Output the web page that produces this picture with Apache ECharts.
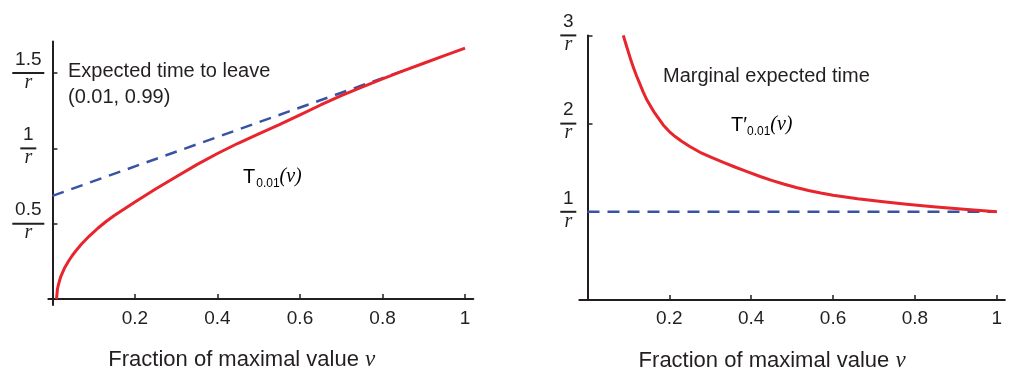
<!DOCTYPE html>
<html>
<head>
<meta charset="utf-8">
<script src="https://cdn.jsdelivr.net/npm/echarts@6/dist/echarts.min.js"></script>
<style>
  html, body { margin: 0; padding: 0; background: #fff; }
  #main { width: 1024px; height: 378px; }
</style>
</head>
<body>
<div id="main"></div>
<script>
// x ticks shared by both panels
var xTicks = [0.2, 0.4, 0.6, 0.8, 1];

// left panel: expected time to leave T_0.01(nu), in units of 1/r
var leftNu = [0.01, 0.012, 0.015, 0.02, 0.03, 0.04, 0.05, 0.06, 0.07, 0.08, 0.09, 0.1, 0.11, 0.13, 0.15, 0.175, 0.2, 0.225, 0.25, 0.3, 0.35, 0.4, 0.45, 0.5, 0.55, 0.6, 0.65, 0.7, 0.75, 0.8, 0.85, 0.9, 0.95, 1];
var leftT = [0, 0.065, 0.1, 0.148, 0.21, 0.256, 0.296, 0.331, 0.364, 0.392, 0.42, 0.445, 0.47, 0.515, 0.555, 0.6, 0.645, 0.688, 0.73, 0.812, 0.892, 0.966, 1.034, 1.096, 1.157, 1.222, 1.288, 1.35, 1.407, 1.462, 1.515, 1.565, 1.615, 1.665];
var leftDashNu = [0, 0.87];
var leftDashT = [0.685, 1.535];
var leftYTicks = [0.5, 1, 1.5];
var leftYLabels = ['0.5', '1', '1.5'];

// right panel: marginal expected time T'_0.01(nu)
var rightNu = [0.0875, 0.094, 0.1, 0.106, 0.112, 0.12, 0.128, 0.136, 0.145, 0.155, 0.165, 0.175, 0.185, 0.2, 0.215, 0.23, 0.25, 0.275, 0.3, 0.332, 0.36, 0.39, 0.422, 0.45, 0.479, 0.51, 0.54, 0.57, 0.6, 0.66, 0.723, 0.78, 0.845, 0.92, 1];
var rightT = [3.0, 2.9, 2.81, 2.72, 2.64, 2.54, 2.45, 2.36, 2.27, 2.19, 2.115, 2.05, 1.985, 1.91, 1.85, 1.8, 1.74, 1.675, 1.623, 1.56, 1.508, 1.455, 1.4, 1.357, 1.315, 1.275, 1.242, 1.213, 1.188, 1.148, 1.113, 1.085, 1.058, 1.03, 1.0];
var rightDashNu = [0, 1];
var rightDashT = [1, 1];
var rightYTicks = [1, 2, 3];
var rightYLabels = ['1', '2', '3'];

var RED = '#e8252c';
var BLUE = '#3953a4';
var INK = '#231f20';
var SANS = '"Liberation Sans", Arial, sans-serif';
var SERIF = '"Liberation Serif", "DejaVu Serif", serif';

function zip(a, b) {
  return a.map(function (v, i) { return [v, b[i]]; });
}

// fraction label: number over a bar over italic r
function fracFormatter(ticks, labels) {
  return function (v) {
    var i = ticks.indexOf(v);
    var n = i >= 0 ? labels[i] : String(v);
    return '{n|' + n + '}\n{' + (n.length > 1 ? 'lw' : 'ln') + '| }\n{d|r}';
  };
}

var fracRich = {
  n: { fontSize: 19, fontFamily: SANS, color: INK, lineHeight: 23, align: 'center' },
  lw: { width: 32, height: 2, fontSize: 1, lineHeight: 4, backgroundColor: INK, align: 'center' },
  ln: { width: 16, height: 2, fontSize: 1, lineHeight: 4, backgroundColor: INK, align: 'center' },
  d: { fontSize: 20, fontFamily: SERIF, fontStyle: 'italic', color: INK, lineHeight: 15, align: 'center' }
};

function xAxisCfg(grid, min, max, shift, labelMargin, gap) {
  return {
    type: 'value', gridIndex: grid, min: min, max: max,
    axisLine: { onZero: true, lineStyle: { color: INK, width: 2 } },
    axisTick: { show: true, inside: true, length: 5, customValues: xTicks, lineStyle: { color: INK, width: 1.5 } },
    axisLabel: { customValues: xTicks, margin: labelMargin, fontSize: 19, fontFamily: SANS, color: INK },
    splitLine: { show: false },
    name: 'Fraction of maximal value {i|ν}',
    nameLocation: 'middle',
    nameGap: gap,
    nameTextStyle: {
      fontSize: 22, fontFamily: SANS, color: INK, padding: [0, shift, 0, 0],
      rich: { i: { fontSize: 23, fontFamily: SERIF, fontStyle: 'italic', color: INK } }
    }
  };
}

function yAxisCfg(grid, min, max, ticks, labels, margin) {
  return {
    type: 'value', gridIndex: grid, min: min, max: max,
    axisLine: { onZero: true, lineStyle: { color: INK, width: 2 } },
    axisTick: { show: true, inside: true, length: 5, customValues: ticks, lineStyle: { color: INK, width: 1.5 } },
    axisLabel: {
      customValues: ticks, margin: margin, align: 'center', verticalAlign: 'middle',
      padding: [0, 0, 8, 0],
      formatter: fracFormatter(ticks, labels), rich: fracRich
    },
    splitLine: { show: false }
  };
}

var chart = echarts.init(document.getElementById('main'), null, { renderer: 'canvas' });

var option = {
  animation: false,
  backgroundColor: '#fff',
  grid: [
    { left: 48.3, top: 41.4, width: 425, height: 263.7, containLabel: false, outerBoundsMode: 'none' },
    { left: 579.3, top: 35.4, width: 425.6, height: 264.6, containLabel: false, outerBoundsMode: 'none' }
  ],
  xAxis: [
    xAxisCfg(0, -0.01, 1.02, 38, 4, 43),
    xAxisCfg(1, -0.02, 1.02, 40, 9, 49)
  ],
  yAxis: [
    yAxisCfg(0, -0.04, 1.71, leftYTicks, leftYLabels, 20),
    yAxisCfg(1, 0, 3, rightYTicks, rightYLabels, 11)
  ],
  series: [
    {
      name: 'tangent', type: 'line', xAxisIndex: 0, yAxisIndex: 0,
      data: zip(leftDashNu, leftDashT), showSymbol: false,
      lineStyle: { color: BLUE, width: 2.5, type: [12, 8] }
    },
    {
      name: 'T_0.01', type: 'line', xAxisIndex: 0, yAxisIndex: 0,
      data: zip(leftNu, leftT), showSymbol: false, smooth: false,
      lineStyle: { color: RED, width: 3, join: 'round' }
    },
    {
      name: '1/r', type: 'line', xAxisIndex: 1, yAxisIndex: 1,
      data: zip(rightDashNu, rightDashT), showSymbol: false,
      lineStyle: { color: BLUE, width: 2.5, type: [12, 8] }
    },
    {
      name: "T'_0.01", type: 'line', xAxisIndex: 1, yAxisIndex: 1,
      data: zip(rightNu, rightT), showSymbol: false, smooth: false,
      lineStyle: { color: RED, width: 3, join: 'round' }
    }
  ],
  graphic: [
    { type: 'text', left: 68, top: 61, style: { text: 'Expected time to leave', font: '20px ' + SANS, fill: INK } },
    { type: 'text', left: 68, top: 87, style: { text: '(0.01, 0.99)', font: '20px ' + SANS, fill: INK } },
    {
      type: 'text', left: 243, top: 164,
      style: {
        text: '{t|T}{s|0.01}{p|(ν)}',
        rich: {
          t: { fontSize: 20, fontFamily: SANS, color: '#444', lineHeight: 26, verticalAlign: 'middle' },
          s: { fontSize: 12, fontFamily: SANS, color: '#333', lineHeight: 26, padding: [14, 0, 0, 1], verticalAlign: 'middle' },
          p: { fontSize: 20, fontFamily: SERIF, fontStyle: 'italic', color: '#333', lineHeight: 26, verticalAlign: 'middle' }
        }
      }
    },
    { type: 'text', left: 663, top: 66, style: { text: 'Marginal expected time', font: '20px ' + SANS, fill: INK } },
    {
      type: 'text', left: 731, top: 112,
      style: {
        text: '{t|T′}{s|0.01}{p|(ν)}',
        rich: {
          t: { fontSize: 20, fontFamily: SANS, color: '#444', lineHeight: 26, verticalAlign: 'middle' },
          s: { fontSize: 12, fontFamily: SANS, color: '#333', lineHeight: 26, padding: [14, 0, 0, 0], verticalAlign: 'middle' },
          p: { fontSize: 20, fontFamily: SERIF, fontStyle: 'italic', color: '#333', lineHeight: 26, verticalAlign: 'middle' }
        }
      }
    }
  ]
};

chart.setOption(option);
</script>
</body>
</html>
